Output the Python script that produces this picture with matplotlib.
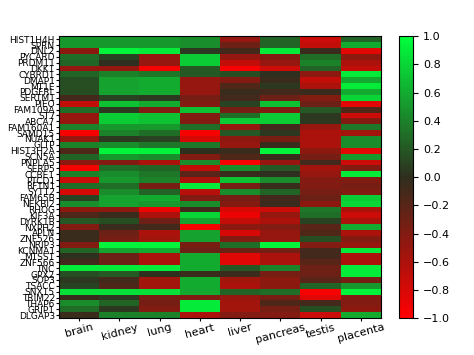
import numpy as np
import matplotlib
matplotlib.use("Agg")
import matplotlib.pyplot as plt
from matplotlib.colors import LinearSegmentedColormap

tissues = ["brain", "kidney", "lung", "heart", "liver", "pancreas", "testis", "placenta"]

genes = ["HIST1H4H", "SPRN", "DNL2", "PYCARD", "PRDM11", "DKK1", "CYBRD1", "DMAP1",
         "MT1E", "PDGFRL", "SERTM1", "PIEO", "FAM109A", "ST7", "ABCA7", "FAM160A1",
         "SAMD15", "NUAK1", "GLTP", "HIST3H2A", "SCN5A", "PNPLA5", "SERP5", "CCBE1",
         "PTCD1", "RFTN1", "SYT12", "FAM65B", "NEKBI2", "RHOG", "KIF3A", "DYRK1B",
         "NXPH2", "APLN", "ZNF526", "NRIP3", "KCNMA1", "MTSS1", "ZNF566", "TNC",
         "GPX2", "SOP3", "TSACC", "SNX15", "TRIM22", "THAP6", "GRIP1", "DLGAP3"]

# correlation values, one row per gene:
# brain, kidney, lung, heart, liver, pancreas, testis, placenta
values = [
    [0.5, 0.5, 0.5, 0.45, -0.5, 0.25, -0.75, 0.25],
    [0.5, 0.5, 0.5, 0.45, -0.3, 0.25, -0.7, 0.6],
    [-0.45, 0.95, 0.9, 0.05, -0.1, 0.9, -0.05, -0.85],
    [0.3, 0.1, -0.5, 0.75, -0.5, -0.4, 0.3, -0.45],
    [0.25, 0.0, -0.5, 0.75, -0.7, -0.5, 0.4, -0.6],
    [-0.5, -0.5, -0.95, 0.2, -0.95, -0.75, 0.25, -0.7],
    [0.25, 0.4, 0.35, 0.2, 0.15, 0.0, -0.45, 0.9],
    [0.15, 0.55, 0.6, -0.5, -0.4, -0.05, -0.7, 0.6],
    [0.15, 0.55, 0.6, -0.5, -0.15, 0.05, -0.6, 0.9],
    [0.15, 0.55, 0.6, -0.5, -0.05, -0.1, -0.05, 0.6],
    [-0.1, 0.1, 0.05, -0.35, -0.1, -0.3, -0.4, 0.8],
    [-0.7, 0.7, 0.6, -0.4, 0.1, 0.7, -0.3, -0.85],
    [0.3, 0.05, -0.4, 0.7, -0.35, -0.4, 0.2, -0.15],
    [-0.5, 0.75, 0.7, -0.4, 0.3, 0.75, 0.05, -0.75],
    [-0.5, 0.75, 0.7, -0.4, 0.75, 0.75, 0.05, -0.4],
    [0.4, 0.5, 0.5, 0.3, -0.5, -0.1, -0.5, 0.35],
    [-0.95, 0.4, 0.3, -0.95, 0.2, 0.05, -0.6, -0.55],
    [-0.5, 0.05, 0.1, -0.8, -0.45, -0.35, -0.6, 0.45],
    [0.4, 0.45, 0.35, 0.35, -0.5, -0.05, -0.6, 0.45],
    [-0.15, 0.95, 0.95, 0.0, -0.05, 0.95, -0.45, -0.85],
    [0.25, 0.5, 0.45, -0.4, -0.15, -0.05, -0.35, 0.5],
    [-0.45, -0.4, -0.6, 0.45, -0.95, -0.5, -0.1, -0.75],
    [-0.95, 0.3, 0.25, -0.7, 0.45, 0.2, -0.55, -0.4],
    [0.4, 0.45, 0.35, -0.2, -0.05, 0.0, -0.5, 0.9],
    [-0.75, 0.5, 0.4, -0.6, 0.7, 0.45, -0.4, -0.4],
    [0.3, 0.3, -0.35, 0.9, -0.35, -0.05, -0.4, -0.35],
    [-0.8, 0.45, 0.25, -0.65, 0.45, 0.25, -0.35, -0.4],
    [0.1, 0.55, 0.6, -0.4, -0.35, -0.1, -0.3, 0.75],
    [0.45, 0.55, 0.5, 0.45, -0.4, -0.05, -0.45, 0.8],
    [-0.45, -0.45, -0.9, -0.1, -0.8, -0.75, 0.35, -0.6],
    [-0.15, -0.05, -0.6, 0.8, -0.9, -0.5, 0.3, -0.75],
    [0.2, 0.15, -0.3, 0.55, -0.7, -0.6, 0.1, -0.6],
    [-0.4, -0.05, -0.1, -0.95, -0.45, -0.4, -0.2, 0.6],
    [-0.05, -0.3, -0.6, 0.55, -0.8, -0.5, -0.15, -0.6],
    [-0.05, -0.35, -0.55, 0.55, -0.4, -0.5, 0.15, -0.4],
    [-0.4, 0.95, 0.95, -0.35, 0.3, 0.95, -0.4, -0.5],
    [0.25, 0.55, 0.6, -0.3, -0.3, -0.35, -0.1, 0.9],
    [0.0, -0.3, -0.6, 0.6, -0.85, -0.6, -0.1, -0.6],
    [-0.1, -0.3, -0.6, 0.6, -0.85, -0.6, -0.2, -0.6],
    [0.9, 0.9, 0.9, 0.6, 0.2, 0.4, -0.3, 0.9],
    [0.15, 0.2, 0.0, -0.05, -0.05, -0.35, -0.3, 0.9],
    [0.05, -0.1, -0.55, 0.6, -0.55, -0.45, -0.2, -0.35],
    [0.1, -0.15, -0.55, 0.6, -0.6, -0.45, 0.25, 0.5],
    [0.85, 0.85, 0.85, 0.6, 0.25, 0.3, -0.95, 0.95],
    [-0.05, 0.05, -0.35, -0.4, -0.5, -0.35, -0.85, -0.4],
    [0.45, 0.25, -0.35, 0.9, -0.55, -0.15, -0.1, -0.4],
    [0.3, 0.05, -0.4, 0.9, -0.55, -0.35, 0.15, -0.45],
    [-0.05, 0.4, 0.4, -0.6, -0.4, -0.4, -0.75, 0.6],
]

data = np.array(values)

cmap = LinearSegmentedColormap.from_list(
    "red_black_green", ["#ff0000", "#2e2e1e", "#00ff3c"])

fig = plt.figure(figsize=(4.74, 3.55), dpi=100)
ax = fig.add_axes([0.1245, 0.104, 0.679, 0.794])
cax = fig.add_axes([0.842, 0.104, 0.03, 0.794])

mesh = ax.pcolormesh(data, cmap=cmap, vmin=-1, vmax=1)
ax.set_xlim(0, len(tissues))
ax.set_ylim(len(genes), 0)

ax.set_xticks(np.arange(len(tissues)) + 0.5)
ax.set_xticklabels(tissues, rotation=15, fontsize=8)
ax.set_yticks(np.arange(len(genes)) + 0.5)
ax.set_yticklabels(genes, fontsize=6.5)
ax.tick_params(axis="both", length=2, pad=1)

cb = fig.colorbar(mesh, cax=cax, ticks=np.linspace(-1, 1, 11))
cb.ax.tick_params(labelsize=8)

fig.savefig("out.png", dpi=100)
